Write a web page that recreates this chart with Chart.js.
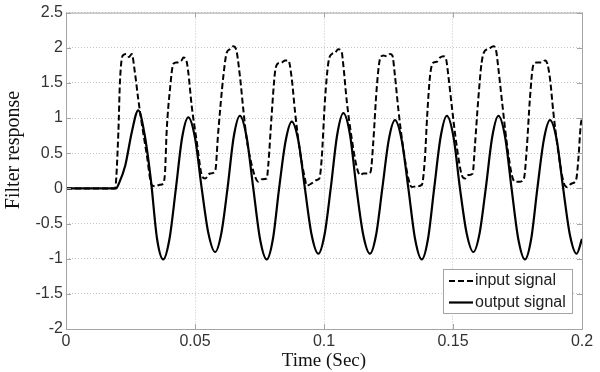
<!DOCTYPE html>
<html>
<head>
<meta charset="utf-8">
<script src="https://cdn.jsdelivr.net/npm/chart.js@4.4.1/dist/chart.umd.min.js"></script>
<style>
  html, body { margin: 0; padding: 0; background: #fff; }
  #wrap { width: 600px; height: 372px; }
</style>
</head>
<body>
<div id="wrap"><canvas id="c" width="600" height="372"></canvas></div>
<script>
// values (time in seconds)
const inputTime = [
  0.0000, 0.0190, 0.0203, 0.0209, 0.0220, 0.0235, 0.0244, 0.0255, 0.0267, 0.0280,
  0.0293, 0.0313, 0.0332, 0.0345, 0.0364, 0.0377, 0.0384, 0.0390, 0.0403, 0.0416,
  0.0429, 0.0448, 0.0455, 0.0465, 0.0474, 0.0487, 0.0507, 0.0526, 0.0539, 0.0558,
  0.0578, 0.0590, 0.0610, 0.0623, 0.0636, 0.0648, 0.0659, 0.0674, 0.0687, 0.0700,
  0.0720, 0.0733, 0.0745, 0.0759, 0.0778, 0.0784, 0.0797, 0.0810, 0.0819, 0.0836,
  0.0849, 0.0862, 0.0875, 0.0888, 0.0907, 0.0926, 0.0933, 0.0952, 0.0972, 0.0982,
  0.0991, 0.1004, 0.1017, 0.1030, 0.1043, 0.1055, 0.1069, 0.1075, 0.1088, 0.1107,
  0.1127, 0.1140, 0.1152, 0.1172, 0.1181, 0.1191, 0.1204, 0.1217, 0.1230, 0.1243,
  0.1256, 0.1265, 0.1275, 0.1288, 0.1307, 0.1327, 0.1340, 0.1359, 0.1379, 0.1391,
  0.1400, 0.1411, 0.1424, 0.1437, 0.1450, 0.1462, 0.1473, 0.1482, 0.1495, 0.1514,
  0.1534, 0.1547, 0.1560, 0.1576, 0.1585, 0.1598, 0.1611, 0.1624, 0.1637, 0.1656,
  0.1667, 0.1676, 0.1689, 0.1708, 0.1728, 0.1740, 0.1760, 0.1775, 0.1786, 0.1798,
  0.1811, 0.1824, 0.1844, 0.1857, 0.1866, 0.1876, 0.1889, 0.1908, 0.1928, 0.1941,
  0.1960, 0.1977, 0.1986, 0.1995, 0.2000
];
const inputValue = [
  0, 0, 0.80, 1.51, 1.89, 1.91, 1.87, 1.91, 1.65, 1.27,
  0.94, 0.48, 0.05, 0.03, 0.05, 0.07, 0.24, 0.80, 1.41, 1.77,
  1.79, 1.82, 1.86, 1.84, 1.65, 1.18, 0.66, 0.19, 0.14, 0.21,
  0.24, 0.80, 1.60, 1.93, 1.98, 2.02, 1.98, 1.60, 1.13, 0.71,
  0.33, 0.165, 0.095, 0.13, 0.14, 0.33, 1.04, 1.65, 1.77, 1.79,
  1.82, 1.82, 1.56, 1.08, 0.52, 0.14, 0.04, 0.07, 0.12, 0.14,
  0.42, 1.27, 1.79, 1.91, 1.93, 1.98, 1.93, 1.75, 1.25, 0.72,
  0.30, 0.19, 0.21, 0.21, 0.24, 0.66, 1.41, 1.84, 1.89, 1.88,
  1.91, 1.89, 1.60, 1.13, 0.57, 0.14, 0.02, 0.03, 0.05, 0.42,
  1.04, 1.60, 1.79, 1.80, 1.86, 1.88, 1.84, 1.60, 1.18, 0.61,
  0.19, 0.14, 0.19, 0.21, 0.61, 1.27, 1.79, 1.96, 1.98, 2.02,
  1.96, 1.70, 1.27, 0.66, 0.19, 0.095, 0.095, 0.14, 0.57, 1.27,
  1.75, 1.79, 1.79, 1.82, 1.77, 1.56, 1.08, 0.52, 0.095, 0.02,
  0.07, 0.12, 0.42, 0.90, 1.00
];

const outputTime = [
  0.0000, 0.0194, 0.0205, 0.0230, 0.0255, 0.0280, 0.0304, 0.0329, 0.0353, 0.0377,
  0.0401, 0.0426, 0.0450, 0.0474,
  0.0500, 0.0526, 0.0552, 0.0578,
  0.0602, 0.0626, 0.0650, 0.0674,
  0.0700, 0.0726, 0.0752, 0.0778,
  0.0802, 0.0826, 0.0851, 0.0875,
  0.0901, 0.0926, 0.0952, 0.0978,
  0.1002, 0.1026, 0.1051, 0.1075,
  0.1101, 0.1126, 0.1152, 0.1178,
  0.1202, 0.1226, 0.1251, 0.1275,
  0.1301, 0.1327, 0.1353, 0.1379,
  0.1403, 0.1427, 0.1452, 0.1476,
  0.1502, 0.1527, 0.1553, 0.1579,
  0.1603, 0.1627, 0.1652, 0.1676,
  0.1702, 0.1727, 0.1753, 0.1779,
  0.1803, 0.1827, 0.1852, 0.1876,
  0.1902, 0.1927, 0.1953, 0.1979,
  0.2000
];
const outputValue = [
  0, 0, 0.07, 0.33, 0.80, 1.11, 0.78, 0.12, -0.72, -1.01,
  -0.72, 0, 0.72, 1.01,
  0.72, 0, -0.64, -0.905,
  -0.64, 0, 0.73, 1.03,
  0.73, 0, -0.72, -1.01,
  -0.72, 0, 0.67, 0.95,
  0.67, 0, -0.66, -0.93,
  -0.66, 0, 0.76, 1.07,
  0.76, 0, -0.66, -0.93,
  -0.66, 0, 0.69, 0.97,
  0.69, 0, -0.72, -1.01,
  -0.72, 0, 0.73, 1.03,
  0.73, 0, -0.64, -0.905,
  -0.64, 0, 0.73, 1.03,
  0.73, 0, -0.72, -1.01,
  -0.72, 0, 0.69, 0.97,
  0.69, 0, -0.66, -0.93,
  -0.72
];

const xTicks = [0, 0.05, 0.1, 0.15, 0.2];
const xTickLabels = ['0', '0.05', '0.1', '0.15', '0.2'];
const yTicks = [-2, -1.5, -1, -0.5, 0, 0.5, 1, 1.5, 2, 2.5];
const yTickLabels = ['-2', '-1.5', '-1', '-0.5', '0', '0.5', '1', '1.5', '2', '2.5'];
const yTitle = 'Filter response';

const toPoints = (xs, ys) => xs.map((t, i) => ({ x: t, y: ys[i] }));

const FRAME = '#a4a4a4';
const SANS = '"Liberation Sans", Arial, sans-serif';
const SERIF = '"Liberation Serif", "Times New Roman", serif';

// matlab style box with inward ticks on all four sides
const frameTicks = {
  id: 'frameTicks',
  afterDatasetsDraw(chart) {
    const { ctx, chartArea: a, scales: { x, y } } = chart;
    ctx.save();
    ctx.strokeStyle = FRAME;
    ctx.lineWidth = 1;
    ctx.setLineDash([]);
    ctx.beginPath();
    x.ticks.forEach(t => {
      const px = Math.round(x.getPixelForValue(t.value)) + 0.5;
      ctx.moveTo(px, a.bottom); ctx.lineTo(px, a.bottom - 5);
      ctx.moveTo(px, a.top); ctx.lineTo(px, a.top + 5);
    });
    y.ticks.forEach(t => {
      const py = Math.round(y.getPixelForValue(t.value)) + 0.5;
      ctx.moveTo(a.left, py); ctx.lineTo(a.left + 5, py);
      ctx.moveTo(a.right, py); ctx.lineTo(a.right - 5, py);
    });
    ctx.stroke();
    ctx.strokeRect(a.left + 0.5, a.top + 0.5, a.right - a.left, a.bottom - a.top);
    ctx.restore();
  }
};

// y label sits a bit above the axis centre in the original
const sideTitle = {
  id: 'sideTitle',
  afterDraw(chart) {
    const { ctx } = chart;
    ctx.save();
    ctx.translate(14, 150);
    ctx.rotate(-Math.PI / 2);
    ctx.font = '20px ' + SERIF;
    ctx.fillStyle = '#111';
    ctx.textAlign = 'center';
    ctx.textBaseline = 'middle';
    ctx.fillText(yTitle, 0, 0);
    ctx.restore();
  }
};

// legend box inside the plot, lower right
const boxLegend = {
  id: 'boxLegend',
  afterDraw(chart) {
    const { ctx } = chart;
    const bx = 443.5, by = 269.5, bw = 129, bh = 44;
    ctx.save();
    ctx.fillStyle = '#fff';
    ctx.fillRect(bx, by, bw, bh);
    ctx.strokeStyle = FRAME;
    ctx.lineWidth = 1;
    ctx.strokeRect(bx, by, bw, bh);
    ctx.font = '16px ' + SANS;
    ctx.textBaseline = 'middle';
    ctx.textAlign = 'left';
    chart.data.datasets.forEach((ds, i) => {
      const ry = 281 + i * 21.5;
      ctx.strokeStyle = ds.borderColor;
      ctx.lineWidth = ds.borderWidth;
      ctx.setLineDash(ds.borderDash || []);
      ctx.beginPath();
      ctx.moveTo(449, ry);
      ctx.lineTo(473, ry);
      ctx.stroke();
      ctx.fillStyle = '#222';
      ctx.fillText(ds.label, 475, ry);
    });
    ctx.restore();
  }
};

new Chart(document.getElementById('c'), {
  type: 'line',
  data: {
    datasets: [
      {
        label: 'input signal',
        data: toPoints(inputTime, inputValue),
        borderColor: '#000',
        borderWidth: 2,
        borderDash: [6, 3],
        pointRadius: 0,
        cubicInterpolationMode: 'monotone'
      },
      {
        label: 'output signal',
        data: toPoints(outputTime, outputValue),
        borderColor: '#000',
        borderWidth: 2.2,
        pointRadius: 0,
        cubicInterpolationMode: 'monotone'
      }
    ]
  },
  options: {
    responsive: false,
    animation: false,
    devicePixelRatio: 1,
    layout: { padding: { left: 0, right: 18, top: 10, bottom: 0 } },
    plugins: {
      legend: { display: false },
      tooltip: { enabled: false }
    },
    scales: {
      x: {
        type: 'linear',
        min: 0,
        max: 0.2,
        afterBuildTicks: s => { s.ticks = xTicks.map(v => ({ value: v })); },
        afterFit: s => { s.height = 43; },
        grid: { color: '#c4c4c4', drawTicks: false },
        border: { display: false, dash: [1, 2] },
        ticks: {
          padding: 3,
          color: '#333',
          font: { family: SANS, size: 16 },
          maxRotation: 0,
          autoSkip: false,
          callback: (v) => xTickLabels[xTicks.indexOf(v)]
        },
        title: {
          display: true,
          text: 'Time (Sec)',
          color: '#111',
          font: { family: SERIF, size: 19 },
          padding: { top: 0, bottom: 0 }
        }
      },
      y: {
        min: -2,
        max: 2.5,
        afterBuildTicks: s => { s.ticks = yTicks.map(v => ({ value: v })); },
        afterFit: s => { s.width = 66; },
        grid: { color: '#c4c4c4', drawTicks: false },
        border: { display: false, dash: [1, 2] },
        ticks: {
          padding: 3,
          color: '#333',
          font: { family: SANS, size: 16 },
          autoSkip: false,
          callback: (v) => yTickLabels[yTicks.indexOf(v)]
        }
      }
    }
  },
  plugins: [frameTicks, sideTitle, boxLegend]
});
</script>
</body>
</html>
